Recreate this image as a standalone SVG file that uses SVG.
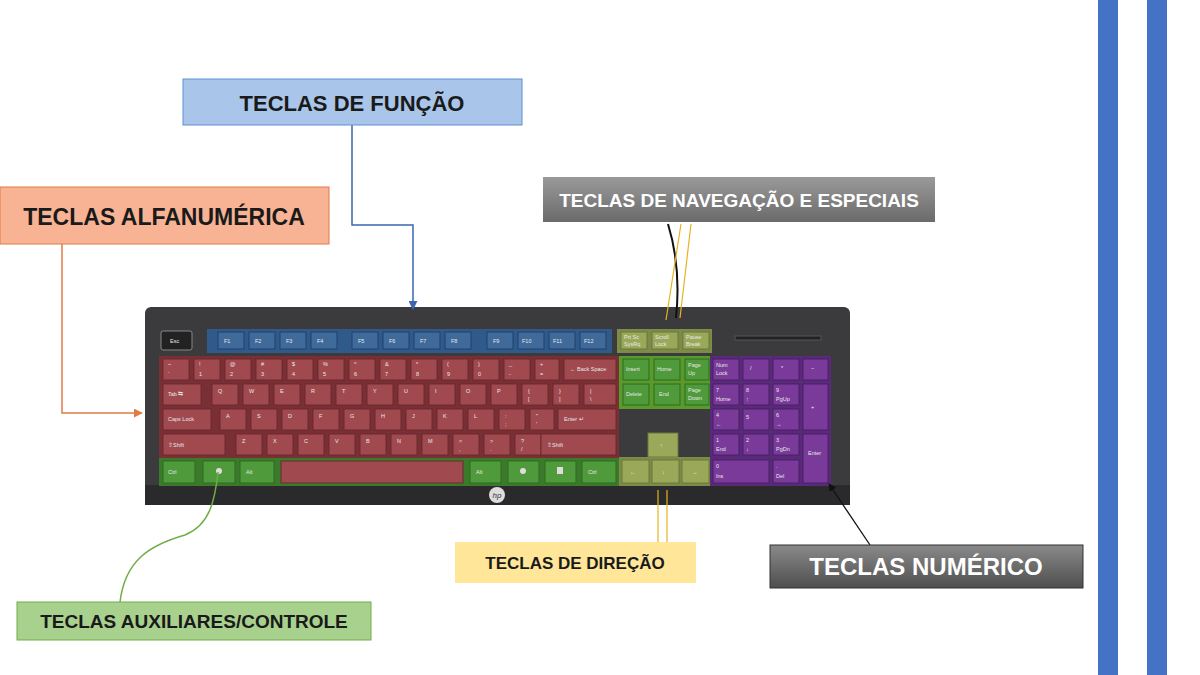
<svg xmlns="http://www.w3.org/2000/svg" width="1200" height="675" viewBox="0 0 1200 675">
<defs>
<style>
.lbl{font-family:"Liberation Sans",Arial,sans-serif;font-weight:bold;text-anchor:middle}
.k{font-family:"Liberation Sans",Arial,sans-serif;font-size:5.5px;fill:#e8e8e8}
.r{fill:#a04a50;stroke:#6a2a2e;stroke-width:1}
.g{fill:#4f9a3a;stroke:#2f6a22;stroke-width:1}
.b{fill:#3f6a9a;stroke:#22406a;stroke-width:1}
.o{fill:#9aa85a;stroke:#6a7838;stroke-width:1}
.p{fill:#7a3a9a;stroke:#4a1f66;stroke-width:1}
</style>
<linearGradient id="gr1" x1="0" y1="0" x2="0" y2="1"><stop offset="0" stop-color="#9a9a9a"/><stop offset="1" stop-color="#6a6a6a"/></linearGradient>
<linearGradient id="gr2" x1="0" y1="0" x2="0" y2="1"><stop offset="0" stop-color="#8a8a8a"/><stop offset="1" stop-color="#4e4e4e"/></linearGradient>
<marker id="ab" viewBox="0 0 10 10" refX="9" refY="5" markerWidth="6" markerHeight="6" orient="auto"><path d="M0,0L10,5L0,10z" fill="#3a66b0"/></marker>
<marker id="ao" viewBox="0 0 10 10" refX="9" refY="5" markerWidth="6" markerHeight="6" orient="auto"><path d="M0,0L10,5L0,10z" fill="#e07b45"/></marker>
<marker id="ak" viewBox="0 0 10 10" refX="9" refY="5" markerWidth="6" markerHeight="6" orient="auto"><path d="M0,0L10,5L0,10z" fill="#111"/></marker>
</defs>
<rect width="1200" height="675" fill="#fff"/>
<rect x="1098" y="0" width="20" height="675" fill="#4472c4"/>
<rect x="1147" y="0" width="20" height="675" fill="#4472c4"/>

<g id="keyboard">
<rect x="145" y="307" width="705" height="198" rx="6" fill="#3b3b3d"/>
<rect x="145" y="485" width="705" height="20" fill="#2a2a2c"/>
<circle cx="497" cy="495" r="8" fill="#ddd"/><text x="497" y="498" class="k" style="fill:#333;font-size:8px;font-style:italic" text-anchor="middle">hp</text>
<rect x="161" y="331" width="31" height="19" rx="2" fill="#222" stroke="#888"/><text x="170" y="343" class="k">Esc</text>
<rect x="207" y="329" width="405" height="24" fill="#2f5a8a"/>
<g>
<rect class="b" x="218" y="332" width="26" height="17"/><text x="224" y="343" class="k">F1</text>
<rect class="b" x="249" y="332" width="26" height="17"/><text x="255" y="343" class="k">F2</text>
<rect class="b" x="280" y="332" width="26" height="17"/><text x="286" y="343" class="k">F3</text>
<rect class="b" x="311" y="332" width="26" height="17"/><text x="317" y="343" class="k">F4</text>
<rect class="b" x="352" y="332" width="26" height="17"/><text x="358" y="343" class="k">F5</text>
<rect class="b" x="383" y="332" width="26" height="17"/><text x="389" y="343" class="k">F6</text>
<rect class="b" x="414" y="332" width="26" height="17"/><text x="420" y="343" class="k">F7</text>
<rect class="b" x="445" y="332" width="26" height="17"/><text x="451" y="343" class="k">F8</text>
<rect class="b" x="487" y="332" width="26" height="17"/><text x="493" y="343" class="k">F9</text>
<rect class="b" x="518" y="332" width="26" height="17"/><text x="522" y="343" class="k">F10</text>
<rect class="b" x="549" y="332" width="26" height="17"/><text x="553" y="343" class="k">F11</text>
<rect class="b" x="580" y="332" width="26" height="17"/><text x="584" y="343" class="k">F12</text>
</g>
<rect x="617" y="329" width="95" height="24" fill="#7d8a48"/>
<rect class="o" x="621" y="332" width="26" height="17"/><text x="624" y="339" class="k">Prt Sc</text><text x="624" y="346" class="k">SysRq</text>
<rect class="o" x="652" y="332" width="26" height="17"/><text x="655" y="339" class="k">Scroll</text><text x="655" y="346" class="k">Lock</text>
<rect class="o" x="683" y="332" width="26" height="17"/><text x="686" y="339" class="k">Pause</text><text x="686" y="346" class="k">Break</text>
<rect x="735" y="336" width="86" height="4" fill="#222" stroke="#555"/>

<rect x="159" y="356" width="460" height="105" fill="#7a2f34"/>
<g>
<rect class="r" x="163" y="359" width="26" height="21"/><text x="168" y="366" class="k">~</text><text x="168" y="376" class="k">`</text>
<rect class="r" x="194" y="359" width="26" height="21"/><text x="199" y="366" class="k">!</text><text x="199" y="376" class="k">1</text>
<rect class="r" x="225" y="359" width="26" height="21"/><text x="230" y="366" class="k">@</text><text x="230" y="376" class="k">2</text>
<rect class="r" x="256" y="359" width="26" height="21"/><text x="261" y="366" class="k">#</text><text x="261" y="376" class="k">3</text>
<rect class="r" x="287" y="359" width="26" height="21"/><text x="292" y="366" class="k">$</text><text x="292" y="376" class="k">4</text>
<rect class="r" x="318" y="359" width="26" height="21"/><text x="323" y="366" class="k">%</text><text x="323" y="376" class="k">5</text>
<rect class="r" x="349" y="359" width="26" height="21"/><text x="354" y="366" class="k">^</text><text x="354" y="376" class="k">6</text>
<rect class="r" x="380" y="359" width="26" height="21"/><text x="385" y="366" class="k">&amp;</text><text x="385" y="376" class="k">7</text>
<rect class="r" x="411" y="359" width="26" height="21"/><text x="416" y="366" class="k">*</text><text x="416" y="376" class="k">8</text>
<rect class="r" x="442" y="359" width="26" height="21"/><text x="447" y="366" class="k">(</text><text x="447" y="376" class="k">9</text>
<rect class="r" x="473" y="359" width="26" height="21"/><text x="478" y="366" class="k">)</text><text x="478" y="376" class="k">0</text>
<rect class="r" x="504" y="359" width="26" height="21"/><text x="509" y="366" class="k">_</text><text x="509" y="376" class="k">-</text>
<rect class="r" x="535" y="359" width="24" height="21"/><text x="540" y="366" class="k">+</text><text x="540" y="376" class="k">=</text>
<rect class="r" x="564" y="359" width="52" height="21"/><text x="570" y="371" class="k">← Back Space</text>

<rect class="r" x="163" y="384" width="38" height="21"/><text x="168" y="396" class="k">Tab ⇆</text>
<rect class="r" x="212" y="384" width="26" height="21"/><text x="218" y="393" class="k">Q</text>
<rect class="r" x="243" y="384" width="26" height="21"/><text x="249" y="393" class="k">W</text>
<rect class="r" x="274" y="384" width="26" height="21"/><text x="280" y="393" class="k">E</text>
<rect class="r" x="305" y="384" width="26" height="21"/><text x="311" y="393" class="k">R</text>
<rect class="r" x="336" y="384" width="26" height="21"/><text x="342" y="393" class="k">T</text>
<rect class="r" x="367" y="384" width="26" height="21"/><text x="373" y="393" class="k">Y</text>
<rect class="r" x="398" y="384" width="26" height="21"/><text x="404" y="393" class="k">U</text>
<rect class="r" x="429" y="384" width="26" height="21"/><text x="435" y="393" class="k">I</text>
<rect class="r" x="460" y="384" width="26" height="21"/><text x="466" y="393" class="k">O</text>
<rect class="r" x="491" y="384" width="26" height="21"/><text x="497" y="393" class="k">P</text>
<rect class="r" x="522" y="384" width="26" height="21"/><text x="528" y="393" class="k">{</text><text x="528" y="401" class="k">[</text>
<rect class="r" x="553" y="384" width="26" height="21"/><text x="559" y="393" class="k">}</text><text x="559" y="401" class="k">]</text>
<rect class="r" x="584" y="384" width="32" height="21"/><text x="590" y="393" class="k">|</text><text x="590" y="401" class="k">\</text>

<rect class="r" x="163" y="409" width="48" height="21"/><text x="168" y="421" class="k">Caps Lock</text>
<rect class="r" x="220" y="409" width="26" height="21"/><text x="226" y="418" class="k">A</text>
<rect class="r" x="251" y="409" width="26" height="21"/><text x="257" y="418" class="k">S</text>
<rect class="r" x="282" y="409" width="26" height="21"/><text x="288" y="418" class="k">D</text>
<rect class="r" x="313" y="409" width="26" height="21"/><text x="319" y="418" class="k">F</text>
<rect class="r" x="344" y="409" width="26" height="21"/><text x="350" y="418" class="k">G</text>
<rect class="r" x="375" y="409" width="26" height="21"/><text x="381" y="418" class="k">H</text>
<rect class="r" x="406" y="409" width="26" height="21"/><text x="412" y="418" class="k">J</text>
<rect class="r" x="437" y="409" width="26" height="21"/><text x="443" y="418" class="k">K</text>
<rect class="r" x="468" y="409" width="26" height="21"/><text x="474" y="418" class="k">L</text>
<rect class="r" x="499" y="409" width="26" height="21"/><text x="505" y="418" class="k">:</text><text x="505" y="426" class="k">;</text>
<rect class="r" x="530" y="409" width="24" height="21"/><text x="536" y="418" class="k">"</text><text x="536" y="426" class="k">'</text>
<rect class="r" x="558" y="409" width="58" height="21"/><text x="564" y="421" class="k">Enter ↵</text>

<rect class="r" x="163" y="434" width="62" height="21"/><text x="168" y="447" class="k">⇧Shift</text>
<rect class="r" x="236" y="434" width="26" height="21"/><text x="242" y="443" class="k">Z</text>
<rect class="r" x="267" y="434" width="26" height="21"/><text x="273" y="443" class="k">X</text>
<rect class="r" x="298" y="434" width="26" height="21"/><text x="304" y="443" class="k">C</text>
<rect class="r" x="329" y="434" width="26" height="21"/><text x="335" y="443" class="k">V</text>
<rect class="r" x="360" y="434" width="26" height="21"/><text x="366" y="443" class="k">B</text>
<rect class="r" x="391" y="434" width="26" height="21"/><text x="397" y="443" class="k">N</text>
<rect class="r" x="422" y="434" width="26" height="21"/><text x="428" y="443" class="k">M</text>
<rect class="r" x="453" y="434" width="26" height="21"/><text x="459" y="443" class="k">&lt;</text><text x="459" y="451" class="k">,</text>
<rect class="r" x="484" y="434" width="26" height="21"/><text x="490" y="443" class="k">&gt;</text><text x="490" y="451" class="k">.</text>
<rect class="r" x="515" y="434" width="26" height="21"/><text x="521" y="443" class="k">?</text><text x="521" y="451" class="k">/</text>
<rect class="r" x="541" y="434" width="75" height="21"/><text x="547" y="447" class="k">⇧Shift</text>
</g>
<rect x="159" y="458" width="460" height="28" fill="#3a7a2a"/>
<rect class="g" x="163" y="461" width="32" height="22"/><text x="168" y="474" class="k">Ctrl</text>
<rect class="g" x="203" y="461" width="32" height="22"/><circle cx="219" cy="471" r="3" fill="#ddd"/>
<rect class="g" x="240" y="461" width="34" height="22"/><text x="246" y="474" class="k">Alt</text>
<rect class="r" x="281" y="461" width="182" height="22"/>
<rect class="g" x="470" y="461" width="31" height="22"/><text x="476" y="474" class="k">Alt</text>
<rect class="g" x="508" y="461" width="31" height="22"/><circle cx="523" cy="471" r="3" fill="#ddd"/>
<rect class="g" x="545" y="461" width="31" height="22"/><rect x="557" y="467" width="6" height="7" fill="#ddd"/>
<rect class="g" x="582" y="461" width="34" height="22"/><text x="588" y="474" class="k">Ctrl</text>

<rect x="619" y="356" width="93" height="53" fill="#5a9a2a"/>
<rect class="g" x="623" y="359" width="26" height="21"/><text x="626" y="371" class="k">Insert</text>
<rect class="g" x="654" y="359" width="26" height="21"/><text x="657" y="371" class="k">Home</text>
<rect class="g" x="685" y="359" width="24" height="21"/><text x="688" y="367" class="k">Page</text><text x="688" y="375" class="k">Up</text>
<rect class="g" x="623" y="384" width="26" height="21"/><text x="626" y="396" class="k">Delete</text>
<rect class="g" x="654" y="384" width="26" height="21"/><text x="659" y="396" class="k">End</text>
<rect class="g" x="685" y="384" width="24" height="21"/><text x="688" y="392" class="k">Page</text><text x="688" y="400" class="k">Down</text>
<rect class="o" x="648" y="433" width="30" height="24"/><text x="660" y="447" class="k">↑</text>
<rect x="619" y="457" width="93" height="29" fill="#7d8a48"/>
<rect class="o" x="622" y="460" width="27" height="23"/><text x="630" y="474" class="k">←</text>
<rect class="o" x="652" y="460" width="27" height="23"/><text x="662" y="474" class="k">↓</text>
<rect class="o" x="682" y="460" width="27" height="23"/><text x="692" y="474" class="k">→</text>

<rect x="710" y="356" width="121" height="130" fill="#5a2a7a"/>
<rect class="p" x="713" y="359" width="26" height="21"/><text x="716" y="367" class="k">Num</text><text x="716" y="375" class="k">Lock</text>
<rect class="p" x="743" y="359" width="26" height="21"/><text x="750" y="370" class="k">/</text>
<rect class="p" x="773" y="359" width="26" height="21"/><text x="781" y="370" class="k">*</text>
<rect class="p" x="803" y="359" width="25" height="21"/><text x="811" y="370" class="k">−</text>
<rect class="p" x="713" y="384" width="26" height="21"/><text x="716" y="392" class="k">7</text><text x="716" y="401" class="k">Home</text>
<rect class="p" x="743" y="384" width="26" height="21"/><text x="746" y="392" class="k">8</text><text x="746" y="401" class="k">↑</text>
<rect class="p" x="773" y="384" width="26" height="21"/><text x="776" y="392" class="k">9</text><text x="776" y="401" class="k">PgUp</text>
<rect class="p" x="803" y="384" width="25" height="46"/><text x="811" y="409" class="k">+</text>
<rect class="p" x="713" y="409" width="26" height="21"/><text x="716" y="417" class="k">4</text><text x="716" y="426" class="k">←</text>
<rect class="p" x="743" y="409" width="26" height="21"/><text x="746" y="419" class="k">5</text>
<rect class="p" x="773" y="409" width="26" height="21"/><text x="776" y="417" class="k">6</text><text x="776" y="426" class="k">→</text>
<rect class="p" x="713" y="434" width="26" height="21"/><text x="716" y="442" class="k">1</text><text x="716" y="451" class="k">End</text>
<rect class="p" x="743" y="434" width="26" height="21"/><text x="746" y="442" class="k">2</text><text x="746" y="451" class="k">↓</text>
<rect class="p" x="773" y="434" width="26" height="21"/><text x="776" y="442" class="k">3</text><text x="776" y="451" class="k">PgDn</text>
<rect class="p" x="803" y="434" width="25" height="49"/><text x="808" y="455" class="k">Enter</text>
<rect class="p" x="713" y="460" width="56" height="23"/><text x="716" y="468" class="k">0</text><text x="716" y="478" class="k">Ins</text>
<rect class="p" x="773" y="460" width="26" height="23"/><text x="776" y="468" class="k">.</text><text x="776" y="478" class="k">Del</text>
</g>

<g id="connectors" fill="none">
<path d="M352,125 V225 H413 V309" stroke="#3a66b0" stroke-width="1.5" marker-end="url(#ab)"/>
<path d="M62,244 V413 H142" stroke="#e07b45" stroke-width="1.5" marker-end="url(#ao)"/>
<path d="M668,224 C676,250 680,280 676,318" stroke="#111" stroke-width="2"/>
<path d="M681,224 L666,320 M691,224 L680,318" stroke="#e6b422" stroke-width="1.2"/>
<path d="M658,490 V542 M667,490 V542" stroke="#e6b422" stroke-width="1.2"/>
<path d="M870,545 L829,484" stroke="#111" stroke-width="1.3" marker-end="url(#ak)"/>
<path d="M120,602 C125,560 150,545 185,535 C210,525 215,500 218,472" stroke="#70ad47" stroke-width="1.5"/>
</g>

<g id="n-funcao"><rect x="183" y="79" width="339" height="46" fill="#a9c6ea" stroke="#5b8fd0"/><text x="352" y="111" class="lbl" font-size="22" fill="#1a1a1a">TECLAS DE FUNÇÃO</text></g>
<g id="n-alfa"><rect x="0" y="187" width="329" height="57" fill="#f7b393" stroke="#e07b45"/><text x="164" y="225" class="lbl" font-size="23" fill="#1a1a1a">TECLAS ALFANUMÉRICA</text></g>
<g id="n-nav"><rect x="543" y="177" width="392" height="45" fill="url(#gr1)"/><text x="739" y="207" class="lbl" font-size="19" fill="#fff">TECLAS DE NAVEGAÇÃO E ESPECIAIS</text></g>
<g id="n-dir"><rect x="455" y="542" width="241" height="41" fill="#ffe699"/><text x="575" y="569" class="lbl" font-size="17" fill="#1a1a1a">TECLAS DE DIREÇÃO</text></g>
<g id="n-num"><rect x="770" y="545" width="313" height="43" fill="url(#gr2)" stroke="#333"/><text x="926" y="575" class="lbl" font-size="24" fill="#fff">TECLAS NUMÉRICO</text></g>
<g id="n-aux"><rect x="17" y="602" width="354" height="38" fill="#a9d18e" stroke="#70ad47"/><text x="194" y="628" class="lbl" font-size="19" fill="#1a1a1a">TECLAS AUXILIARES/CONTROLE</text></g>
</svg>
